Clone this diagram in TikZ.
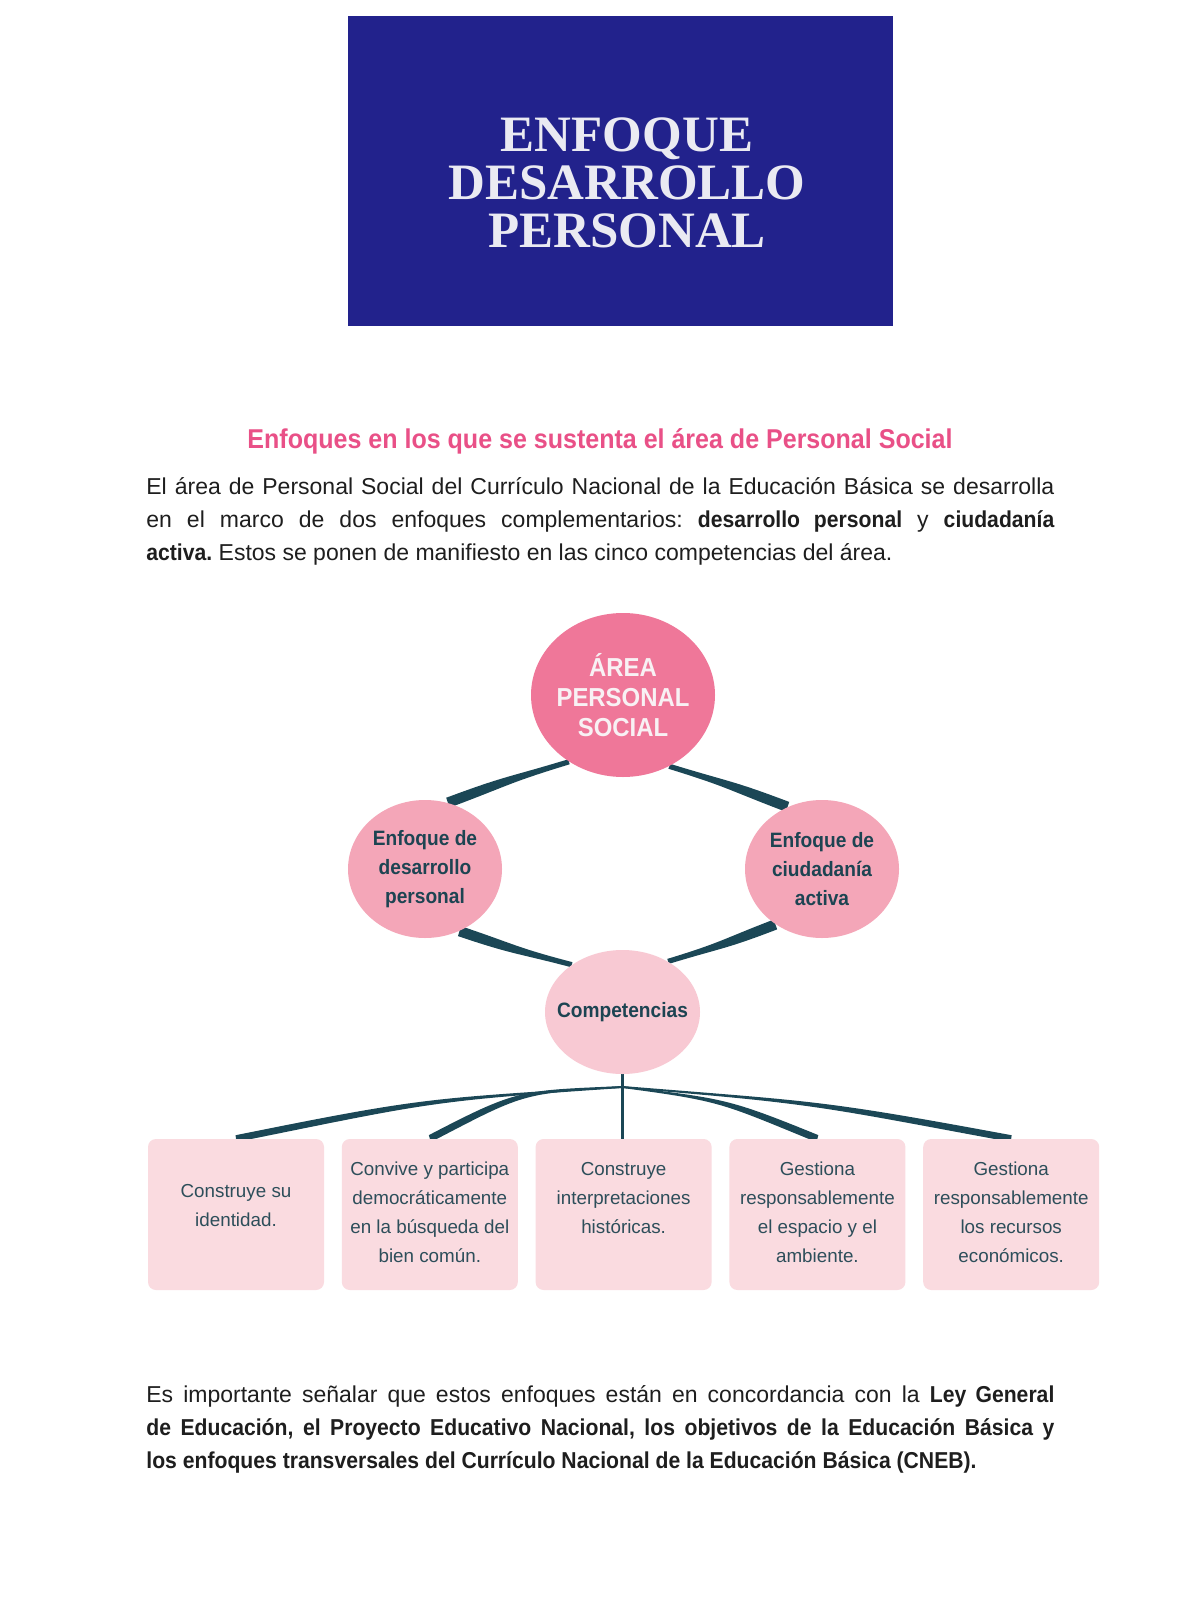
\documentclass[tikz,border=0pt]{standalone}
\usepackage{fontspec}
\setmainfont{Liberation Sans}[BoldFeatures={FakeStretch=0.92}]
\newfontfamily\bannerfont{Liberation Serif}
\usepackage{xcolor}
\usepackage{tikz}
\usetikzlibrary{shapes.geometric, calc, positioning, backgrounds}
\definecolor{bannerblue}{RGB}{34, 34, 140}
\definecolor{bannerwhite}{RGB}{234, 234, 242}
\definecolor{titlepink}{RGB}{233, 80, 135}
\definecolor{areapink}{RGB}{239, 119, 153}
\definecolor{areawhite}{RGB}{248, 241, 244}
\definecolor{enfoquepink}{RGB}{244, 166, 184}
\definecolor{comppink}{RGB}{248, 201, 211}
\definecolor{boxpink}{RGB}{250, 219, 224}
\definecolor{linkteal}{RGB}{27, 71, 86}
\definecolor{darkteal}{RGB}{29, 68, 82}
\definecolor{boxteal}{RGB}{45, 78, 90}
\definecolor{bodygray}{RGB}{30, 30, 30}
\frenchspacing

\newcommand{\taperlink}[5]{%
  \coordinate (tmid) at ($(#1)!0.5!(#2)!#5!90:(#2)$);
  \fill[linkteal] ($(#1)!#3!90:(#2)$) .. controls ($(tmid)!#3!90:(#2)$) and ($(tmid)!#4!90:(#2)$) .. ($(#2)!#4!-90:(#1)$)
    -- ($(#2)!#4!90:(#1)$) .. controls ($(tmid)!-#4!90:(#2)$) and ($(tmid)!-#3!90:(#2)$) .. ($(#1)!#3!-90:(#2)$) -- cycle;}

\begin{document}
\begin{tikzpicture}[x=0.5pt, y=-0.5pt,
    bannerbox/.style={fill=bannerblue, inner sep=0pt, minimum width=272.5pt, minimum height=155pt},
    bannerlabel/.style={align=center, inner sep=0pt, text=bannerwhite,
                        font=\bannerfont\bfseries\fontsize{25.5pt}{24pt}\selectfont},
    titletext/.style={inner sep=0pt, text=titlepink, font=\bfseries\fontsize{13.6pt}{16pt}\selectfont},
    bodytext/.style={anchor=north west, inner sep=0pt, text width=454pt, align=justify, text=bodygray,
                     font=\fontsize{11.5pt}{16.5pt}\selectfont},
    circ/.style={ellipse, inner sep=-8pt, align=center, text=darkteal,
                 font=\bfseries\fontsize{10.4pt}{14.5pt}\selectfont},
    areacirc/.style={circ, fill=areapink, minimum width=92pt, minimum height=82pt, text=areawhite,
                     font=\bfseries\fontsize{13pt}{15pt}\selectfont},
    enfoquecirc/.style={circ, fill=enfoquepink, minimum width=77pt, minimum height=69pt},
    compcirc/.style={circ, fill=comppink, minimum width=77.5pt, minimum height=62pt},
    compbox/.style={fill=boxpink, rounded corners=4pt, inner sep=0pt, minimum width=88pt, minimum height=75.5pt},
    boxtext/.style={align=center, inner sep=0pt, text=boxteal, font=\fontsize{9.4pt}{14.5pt}\selectfont}
]
    \useasboundingbox (0,0) rectangle (1200,1610);

    \node[bannerbox] (banner) at (620.5,171) {};
    \node[bannerlabel] (bannertitle) at (627,183) {ENFOQUE\\DESARROLLO\\PERSONAL};

    \node[titletext] (title) at (600,441) {Enfoques en los que se sustenta el área de Personal Social};
    \node[bodytext] (intro) at (146,477) {\noindent El área de Personal Social del Currículo Nacional de la Educación Básica se desarrolla\linebreak
        en el marco de dos enfoques complementarios: \textbf{desarrollo personal} y \textbf{ciudadanía}\linebreak
        \textbf{activa.} Estos se ponen de manifiesto en las cinco competencias del área.};

    \node[areacirc] (area) at (623,695) {ÁREA\\PERSONAL\\SOCIAL};
    \node[enfoquecirc] (enfizq) at (425,869) {Enfoque de\\desarrollo\\personal};
    \node[enfoquecirc] (enfder) at (822,869) {Enfoque de\\ciudadanía\\activa};
    \node[compcirc] (comp) at (622.5,1012) {Competencias};

    \node[compbox] (b1) at (236,1214.5) {};
    \node[compbox, right=8.5pt of b1] (b2) {};
    \node[compbox, right=8.5pt of b2] (b3) {};
    \node[compbox, right=8.5pt of b3] (b4) {};
    \node[compbox, right=8.5pt of b4] (b5) {};
    \node[boxtext, below=22.5pt of b1.north] (t1) {Construye su\\identidad.};
    \node[boxtext, below=11.5pt of b2.north] (t2) {Convive y participa\\democráticamente\\en la búsqueda del\\bien común.};
    \node[boxtext, below=11.5pt of b3.north] (t3) {Construye\\interpretaciones\\históricas.};
    \node[boxtext, below=11.5pt of b4.north] (t4) {Gestiona\\responsablemente\\el espacio y el\\ambiente.};
    \node[boxtext, below=11.5pt of b5.north] (t5) {Gestiona\\responsablemente\\los recursos\\económicos.};

    \coordinate (hub) at (622.5,1087);

    \begin{scope}[on background layer]
        \fill[white] (0,0) rectangle (1200,1610);
        \taperlink{enfizq.71}{area.231}{2.6pt}{1.3pt}{1pt}
        \taperlink{area.303}{enfder.119}{1.3pt}{2.6pt}{1pt}
        \taperlink{enfizq.299}{comp.137}{2.6pt}{1.3pt}{-1pt}
        \taperlink{enfder.230}{comp.48}{2.6pt}{1.3pt}{1pt}
        \draw[linkteal, line width=1.6pt] (comp.south) -- (comp.south |- b3.north);
        \taperlink{hub}{b1.north}{0.5pt}{1.7pt}{-6.5pt}
        \taperlink{hub}{b2.north}{0.5pt}{1.8pt}{-11pt}
        \taperlink{hub}{b4.north}{0.5pt}{1.8pt}{6.5pt}
        \taperlink{hub}{b5.north}{0.5pt}{1.7pt}{5pt}
    \end{scope}

    \node[bodytext] (closing) at (146,1385) {\noindent Es importante señalar que estos enfoques están en concordancia con la \textbf{Ley General}\linebreak
        \textbf{de Educación, el Proyecto Educativo Nacional, los objetivos de la Educación Básica y}\linebreak
        \textbf{los enfoques transversales del Currículo Nacional de la Educación Básica (CNEB).}};
\end{tikzpicture}
\end{document}
